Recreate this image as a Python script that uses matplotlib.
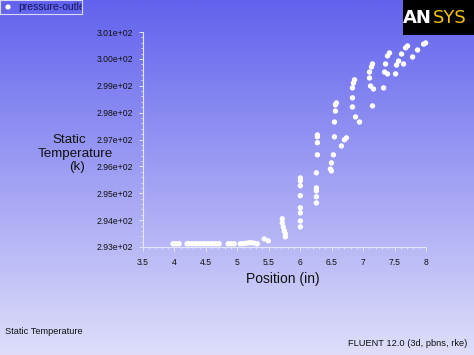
import numpy as np
import matplotlib
matplotlib.use("Agg")
import matplotlib.pyplot as plt
from matplotlib.ticker import MultipleLocator, FuncFormatter, AutoMinorLocator

plt.rcParams['font.family'] = ['Liberation Sans', 'DejaVu Sans']

# Data: position (in) and static temperature (K)
x_bottom = [3.978, 4.026, 4.074, 4.201, 4.233, 4.281, 4.329, 4.361, 4.408, 4.456,
            4.488, 4.536, 4.584, 4.616, 4.663, 4.711, 4.855, 4.902, 4.950, 5.046,
            5.094, 5.141, 5.189, 5.221, 5.269, 5.317]
t_bottom = [293.12, 293.12, 293.12, 293.12, 293.12, 293.12, 293.12, 293.12, 293.12, 293.12,
            293.12, 293.12, 293.12, 293.12, 293.12, 293.12, 293.12, 293.12, 293.12, 293.12,
            293.12, 293.14, 293.16, 293.16, 293.14, 293.12]
x_rise = [5.428, 5.492,
          5.715, 5.715, 5.731, 5.747, 5.763, 5.763,
          6.002, 6.002, 6.002, 6.002, 6.002, 6.002, 6.002, 6.002,
          6.273, 6.273, 6.273, 6.273, 6.257, 6.257, 6.257, 6.257, 6.257,
          6.576, 6.560, 6.560, 6.544, 6.544, 6.528, 6.496, 6.480, 6.496,
          6.655, 6.703, 6.735, 6.942,
          6.863, 6.847, 6.831, 6.831, 6.831, 6.879,
          7.149, 7.133, 7.102, 7.102, 7.118, 7.165, 7.325, 7.149,
          7.420, 7.388, 7.357, 7.341, 7.388, 7.516,
          7.707, 7.675, 7.612, 7.564, 7.532, 7.643,
          7.994, 7.962, 7.866, 7.787]
t_rise = [293.30, 293.23,
          294.05, 293.90, 293.75, 293.60, 293.49, 293.38,
          295.57, 295.46, 295.28, 294.91, 294.46, 294.27, 293.97, 293.75,
          297.17, 297.10, 296.88, 296.43, 295.76, 295.20, 295.09, 294.87, 294.64,
          298.36, 298.29, 298.06, 297.65, 297.10, 296.43, 296.13, 295.90, 295.83,
          296.76, 296.99, 297.06, 297.65,
          299.22, 299.10, 298.92, 298.55, 298.21, 297.84,
          299.81, 299.70, 299.51, 299.29, 298.99, 298.88, 298.92, 298.25,
          300.22, 300.11, 299.81, 299.51, 299.44, 299.44,
          300.48, 300.41, 300.18, 299.92, 299.77, 299.81,
          300.59, 300.55, 300.33, 300.07]
positions = x_bottom + x_rise
temperatures = t_bottom + t_rise
ylabel_lines = ['Static', 'Temperature', '(k)']

W, H = 474, 355
fig = plt.figure(figsize=(W / 100, H / 100), dpi=100)

# gradient background
bg = fig.add_axes([0, 0, 1, 1], zorder=0)
top = np.array([98, 98, 238]) / 255
bot = np.array([222, 222, 250]) / 255
tt = np.linspace(0, 1, 256)[:, None, None]
grad = top * (1 - tt) + bot * tt
grad = np.repeat(grad, 2, axis=1)
bg.imshow(grad, aspect='auto', extent=[0, 1, 0, 1], origin='upper')
bg.set_axis_off()

ax = fig.add_axes([143 / W, 1 - 247 / H, (426 - 143) / W, (247 - 32) / H], zorder=1)
ax.patch.set_alpha(0)
ax.scatter(positions, temperatures, s=15, c='white', edgecolors='none', zorder=3,
           clip_on=False)
ax.set_xlim(3.5, 8)
ax.set_ylim(293, 301)
for s in ['top', 'right']:
    ax.spines[s].set_visible(False)
spc = '#e4e4fa'
for s in ['left', 'bottom']:
    ax.spines[s].set_color(spc)
    ax.spines[s].set_linewidth(0.8)
ax.xaxis.set_major_locator(MultipleLocator(0.5))
ax.xaxis.set_minor_locator(AutoMinorLocator(5))
ax.yaxis.set_major_locator(MultipleLocator(1))
ax.yaxis.set_minor_locator(AutoMinorLocator(5))
ax.xaxis.set_major_formatter(FuncFormatter(lambda v, p: '%g' % v))
ax.yaxis.set_major_formatter(FuncFormatter(lambda v, p: '%.2e' % v))
ax.tick_params(which='major', direction='out', length=3, width=0.7, color=spc,
               labelsize=6.2, labelcolor='#111111')
ax.tick_params(which='minor', direction='out', length=1.5, width=0.6, color=spc)
ax.tick_params(axis='x', which='major', pad=5)
ax.tick_params(axis='y', which='major', pad=4)

fig.text(283 / W, 1 - 279 / H, 'Position (in)', ha='center', va='center',
         fontsize=10, color='#111111')
for (lx, ly), line in zip([(69, 140), (75, 154), (77, 167)], ylabel_lines):
    fig.text(lx / W, 1 - ly / H, line, ha='center', va='center',
             fontsize=9.6, color='#111111')

fig.text(5 / W, 1 - 331 / H, 'Static Temperature', ha='left', va='center',
         fontsize=6.7, color='#111111')
fig.text(467 / W, 1 - 343 / H, 'FLUENT 12.0 (3d, pbns, rke)', ha='right', va='center',
         fontsize=6.7, color='#111111')

# legend box (clipped)
lg = fig.add_axes([0, 1 - 14 / H, 82 / W, 14 / H], zorder=2)
lg.set_xlim(0, 82)
lg.set_ylim(0, 14)
lg.patch.set_alpha(0)
for s in lg.spines.values():
    s.set_color('#d8d8f4')
    s.set_linewidth(0.8)
lg.set_xticks([])
lg.set_yticks([])
lg.scatter([8], [7], s=14, c='white', edgecolors='none')
lg.text(18, 7, 'pressure-outlet', ha='left', va='center', fontsize=7.5,
        color='#14145a', clip_on=True)

# logo
lo = fig.add_axes([403 / W, 1 - 35 / H, (W - 403) / W, 35 / H], zorder=2)
lo.set_xlim(0, 71)
lo.set_ylim(0, 35)
lo.set_facecolor('black')
lo.set_xticks([])
lo.set_yticks([])
for s in lo.spines.values():
    s.set_visible(False)
lo.text(29, 17, 'AN', ha='right', va='center', fontsize=13, color='white',
        fontweight='bold', family='Liberation Sans Narrow')
lo.text(30, 17, 'SYS', ha='left', va='center', fontsize=13, color='#f2c200',
        family='Liberation Sans Narrow')

fig.savefig('out.png', dpi=100)
